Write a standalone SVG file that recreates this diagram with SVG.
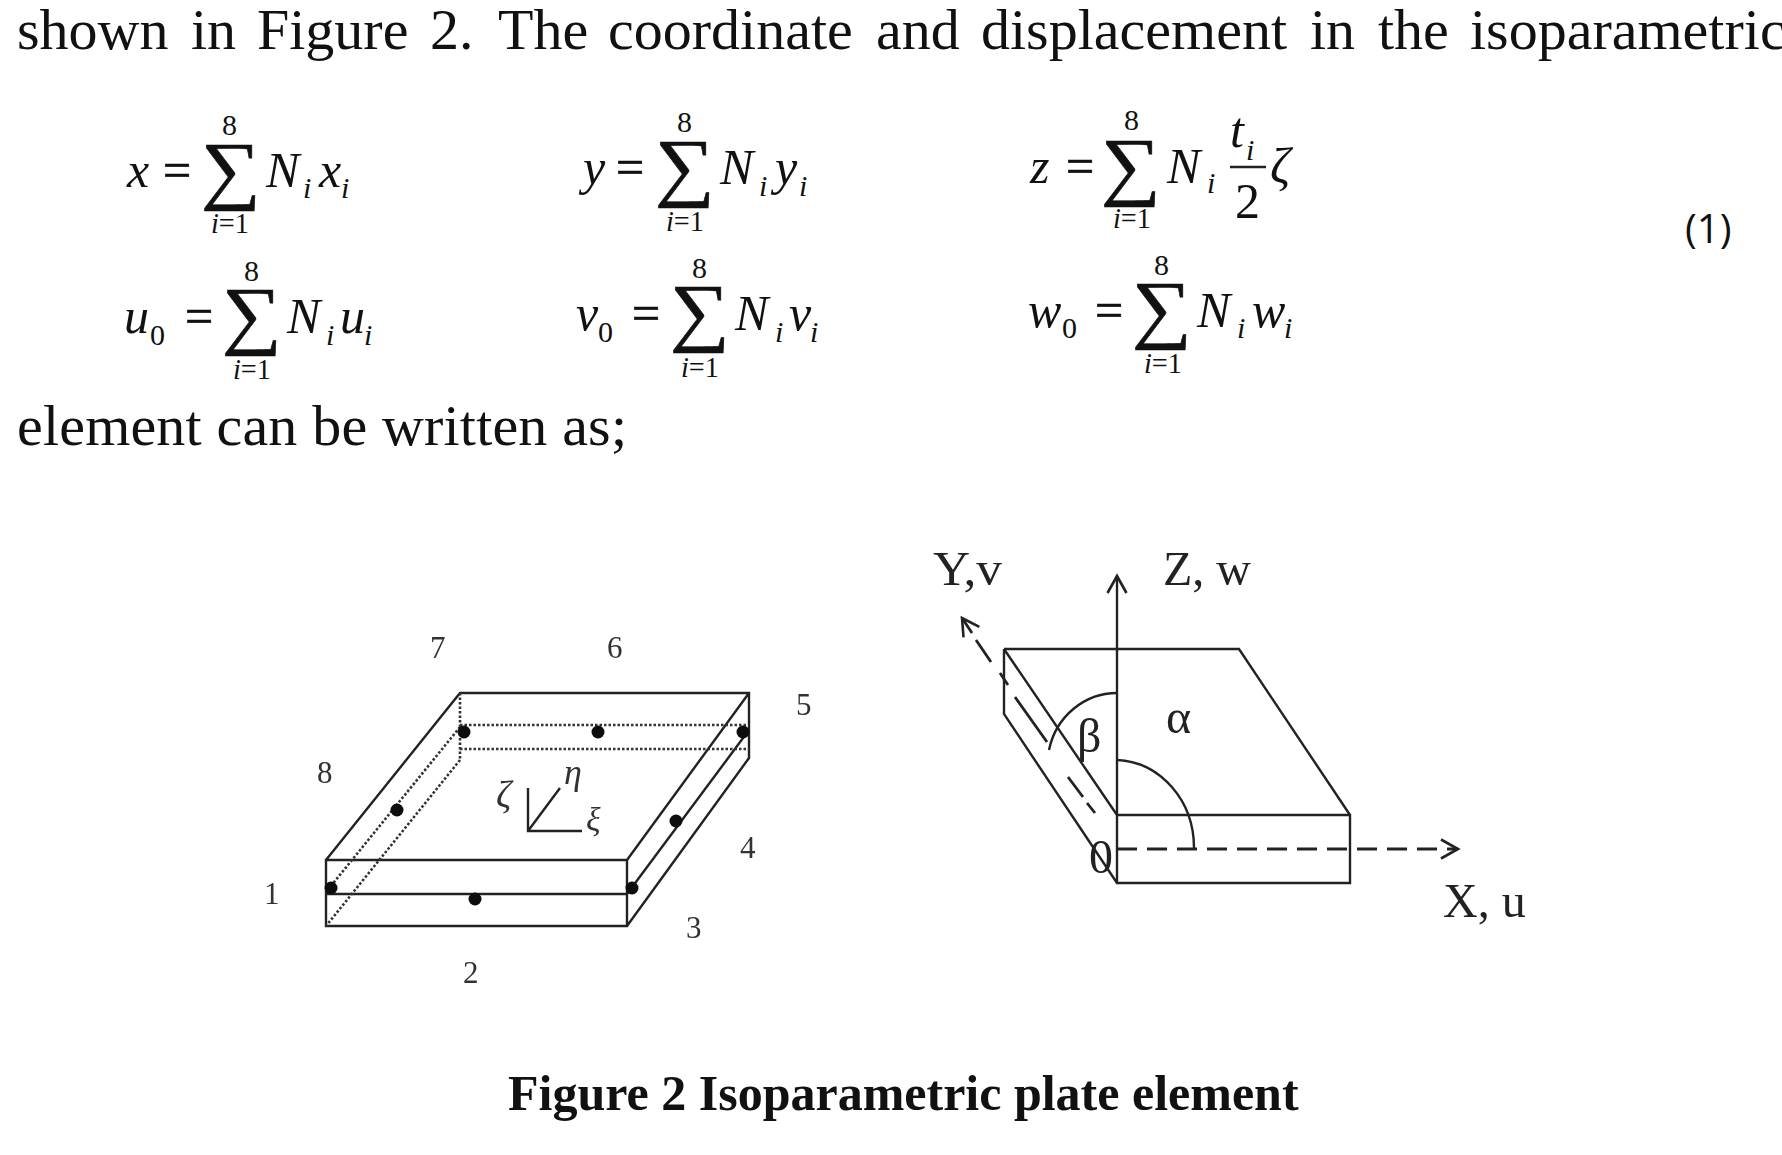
<svg xmlns="http://www.w3.org/2000/svg" width="1782" height="1155" viewBox="0 0 1782 1155">
<style>
text{font-family:"Liberation Serif","Times New Roman",serif;fill:#111}
.t{font-size:58px}
.cap{font-size:50px;font-weight:bold}
.m{font-size:50px}
.e{font-size:50px;stroke:#111;stroke-width:.7}
.mi{font-size:50px;font-style:italic}
.s{font-size:30px;font-style:italic}
.n{font-size:30px}
.sg{font-size:76px;text-anchor:middle;stroke:#111;stroke-width:.6}
.lb{font-size:31px;fill:#333}
.gk{fill:#333;font-style:italic}
.ax{font-size:48px;fill:#222}
.l{fill:none;stroke:#222;stroke-width:2.4}
.d{fill:none;stroke:#333;stroke-width:2.6;stroke-dasharray:2.5 2}
.da{fill:none;stroke:#222;stroke-width:2.8}
.dot{fill:#111}
</style>
<defs>
<marker id="arrow" markerUnits="userSpaceOnUse" markerWidth="26" markerHeight="26" refX="21" refY="13" orient="auto">
<path d="M4 3.5L21 13L4 22.500" fill="none" stroke="#222" stroke-width="2.600"/>
</marker>
<filter id="soft" x="-5%" y="-5%" width="110%" height="110%"><feGaussianBlur stdDeviation="0.5"/></filter>
</defs>
<rect width="1782" height="1155" fill="#fff"/>
<g id="body-text">
<text class="t" y="49"><tspan x="17">shown</tspan><tspan x="191">in</tspan><tspan x="257">Figure</tspan><tspan x="430">2.</tspan><tspan x="498">The</tspan><tspan x="608">coordinate</tspan><tspan x="876">and</tspan><tspan x="981">displacement</tspan><tspan x="1310">in</tspan><tspan x="1378">the</tspan><tspan x="1470">isoparametric</tspan></text>
<text class="t" x="17" y="445" textLength="610" lengthAdjust="spacing">element can be written as;</text>
<text class="cap" x="508" y="1110">Figure 2 Isoparametric plate element</text>
</g>
<g id="eq-x">
<text class="mi" x="127" y="187">x</text><text class="e" x="163" y="187">=</text><text class="sg" x="231" y="195" textLength="60" lengthAdjust="spacingAndGlyphs">∑</text><text class="n" x="222" y="135">8</text><text class="n" x="211" y="233" textLength="38" lengthAdjust="spacingAndGlyphs"><tspan font-style="italic">i</tspan>=1</text>
<text class="mi" x="266" y="187">N</text><text class="s" x="303" y="198">i</text><text class="mi" x="319" y="187">x</text><text class="s" x="341" y="198">i</text>
</g>
<g id="eq-y">
<text class="mi" x="583" y="184">y</text><text class="e" x="616" y="184">=</text><text class="sg" x="685" y="192" textLength="60" lengthAdjust="spacingAndGlyphs">∑</text><text class="n" x="677" y="132">8</text><text class="n" x="666" y="231" textLength="38" lengthAdjust="spacingAndGlyphs"><tspan font-style="italic">i</tspan>=1</text>
<text class="mi" x="720" y="184">N</text><text class="s" x="759" y="196">i</text><text class="mi" x="775" y="184">y</text><text class="s" x="799" y="196">i</text>
</g>
<g id="eq-z">
<text class="mi" x="1030" y="183">z</text><text class="e" x="1066" y="183">=</text><text class="sg" x="1131" y="191" textLength="60" lengthAdjust="spacingAndGlyphs">∑</text><text class="n" x="1124" y="130">8</text><text class="n" x="1113" y="228" textLength="38" lengthAdjust="spacingAndGlyphs"><tspan font-style="italic">i</tspan>=1</text>
<text class="mi" x="1167" y="183">N</text><text class="s" x="1207" y="193">i</text>
<text class="mi" x="1230" y="147">t</text><text class="s" x="1246" y="160">i</text>
<line class="l" x1="1230" y1="167" x2="1266" y2="167"/>
<text class="m" x="1235" y="218">2</text><text class="mi" x="1270" y="183">ζ</text>
</g>
<g id="eq-u">
<text class="mi" x="124" y="333">u</text><text class="n" x="150" y="345">0</text><text class="e" x="185" y="333">=</text><text class="sg" x="252" y="340" textLength="60" lengthAdjust="spacingAndGlyphs">∑</text><text class="n" x="244" y="281">8</text><text class="n" x="233" y="379" textLength="38" lengthAdjust="spacingAndGlyphs"><tspan font-style="italic">i</tspan>=1</text>
<text class="mi" x="287" y="333">N</text><text class="s" x="326" y="345">i</text><text class="mi" x="340" y="333">u</text><text class="s" x="364" y="345">i</text>
</g>
<g id="eq-v">
<text class="mi" x="576" y="330">v</text><text class="n" x="598" y="342">0</text><text class="e" x="632" y="330">=</text><text class="sg" x="700" y="337" textLength="60" lengthAdjust="spacingAndGlyphs">∑</text><text class="n" x="692" y="278">8</text><text class="n" x="681" y="377" textLength="38" lengthAdjust="spacingAndGlyphs"><tspan font-style="italic">i</tspan>=1</text>
<text class="mi" x="735" y="330">N</text><text class="s" x="775" y="342">i</text><text class="mi" x="789" y="330">v</text><text class="s" x="810" y="342">i</text>
</g>
<g id="eq-w">
<text class="mi" x="1028" y="327">w</text><text class="n" x="1062" y="338">0</text><text class="e" x="1095" y="327">=</text><text class="sg" x="1162" y="334" textLength="60" lengthAdjust="spacingAndGlyphs">∑</text><text class="n" x="1154" y="275">8</text><text class="n" x="1144" y="373" textLength="38" lengthAdjust="spacingAndGlyphs"><tspan font-style="italic">i</tspan>=1</text>
<text class="mi" x="1197" y="327">N</text><text class="s" x="1237" y="338">i</text><text class="mi" x="1252" y="327">w</text><text class="s" x="1284" y="338">i</text>
</g>
<g id="eq-number"><text x="1685" y="243" style="font-family:'Open Sans','Noto Sans',sans-serif;font-size:40px">(1)</text></g>
<g id="plate-left" filter="url(#soft)">
<path class="l" d="M326 860H627V926H326ZM326 894H627M326 860L460 693H749V758L627 926M627 860L749 693M627 894L749 730"/>
<path class="d" d="M460 693V760M460 725H749M460 749H749M460 727L326 892M460 760L326 926"/>
<circle class="dot" cx="331" cy="888" r="6.500"/><circle class="dot" cx="475" cy="899" r="6.500"/><circle class="dot" cx="632" cy="888" r="6.500"/><circle class="dot" cx="676" cy="821" r="6.500"/><circle class="dot" cx="743" cy="732" r="6.500"/><circle class="dot" cx="598" cy="732" r="6.500"/><circle class="dot" cx="464" cy="732" r="6.500"/><circle class="dot" cx="397" cy="810" r="6.500"/>
<path class="l" d="M528 788V831H582M528 831L560 788"/>
<text class="lb" x="264" y="904">1</text><text class="lb" x="463" y="983">2</text><text class="lb" x="686" y="938">3</text><text class="lb" x="740" y="858">4</text><text class="lb" x="796" y="715">5</text><text class="lb" x="607" y="658">6</text><text class="lb" x="430" y="658">7</text><text class="lb" x="317" y="783">8</text>
<text class="gk" x="496" y="807" font-size="38">ζ</text><text class="gk" x="564" y="784" font-size="36">η</text><text class="gk" x="586" y="831" font-size="34">ξ</text>
</g>
<g id="plate-right" filter="url(#soft)">
<path class="l" d="M1117 815H1350V883H1117ZM1004 649H1239L1350 815M1004 649L1117 815M1004 649V714L1117 883"/>
<path class="l" d="M1117 815V576" marker-end="url(#arrow)"/>
<path class="da" d="M1095 813L1087 803M1083 797L1068 777M1047 742L1015 697M1008 685L1000 673M991 662L976 640"/>
<path class="da" d="M972 633L962 618" marker-end="url(#arrow)"/>
<path class="da" d="M1117 849H1458" stroke-dasharray="20 10" marker-end="url(#arrow)"/>
<path class="l" d="M1117 693C1085 693 1056 716 1049 750M1117 760C1160 762 1194 800 1194 848"/>
<text class="ax" x="1089" y="873">0</text>
<text class="ax" x="1077" y="752">β</text><text class="ax" x="1166" y="733">α</text>
<text class="ax" x="933" y="585" textLength="69" lengthAdjust="spacingAndGlyphs">Y,v</text><text class="ax" x="1163" y="585">Z, w</text><text class="ax" x="1443" y="917">X, u</text>
</g>
</svg>
